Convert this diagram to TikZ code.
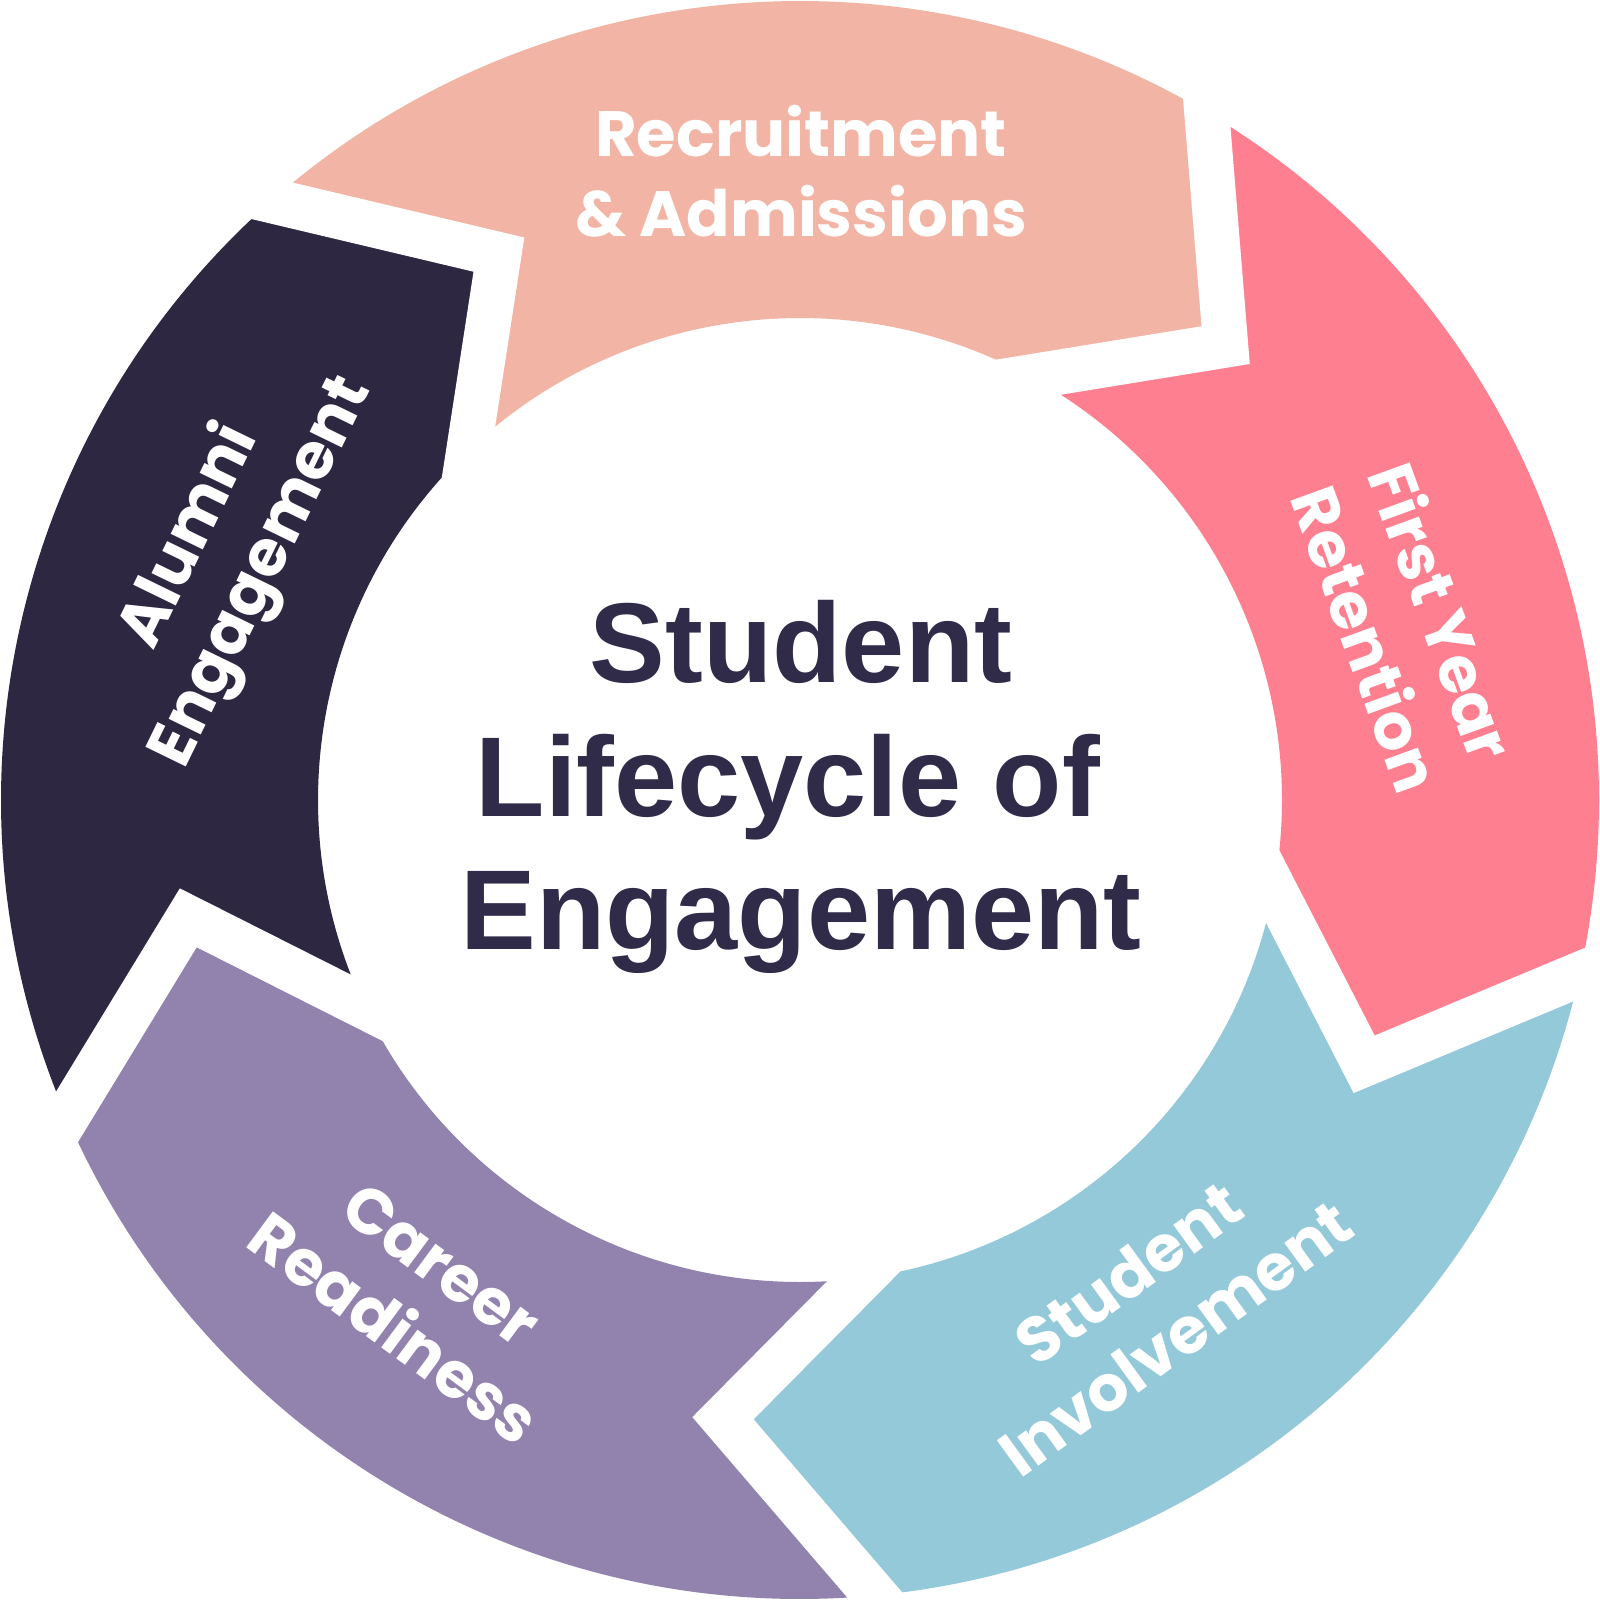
\documentclass[tikz,border=0pt]{standalone}
\usepackage{fontspec}
\setmainfont{Liberation Sans}
\newfontfamily\labelfont{Poppins}
\usetikzlibrary{calc}
\definecolor{recr}{HTML}{F2B4A5}
\definecolor{firsty}{HTML}{FE7F90}
\definecolor{involv}{HTML}{94C9D9}
\definecolor{career}{HTML}{9283AE}
\definecolor{alumni}{HTML}{2D2742}
\definecolor{titlecol}{HTML}{312B4A}
\begin{document}
\begin{tikzpicture}[x=1pt,y=1pt,
  gapline/.style={white, line width=45pt, line join=miter, miter limit=20},
  lbl/.style={text=white, font=\labelfont\bfseries\fontsize{64}{80}\selectfont, anchor=base, inner sep=0pt},
  ttl/.style={text=titlecol, font=\bfseries\fontsize{113.5}{134}\selectfont, anchor=base, inner sep=0pt}]
\path[use as bounding box, fill=white] (-800,-799) rectangle (800,800);
\def\Ro{799}\def\Rk{623}\def\Ri{482}\def\Tz{59.4}\def\Tk{-12.5}\def\Ti{2}
% segments
\foreach \k/\col in {0/firsty,1/involv,2/career,3/alumni,4/recr}{
  \pgfmathsetmacro\a{\Tz-72*\k}
  \pgfmathsetmacro\b{\a-72}
  \pgfmathsetmacro\bk{\b+\Tk}
  \pgfmathsetmacro\bi{\b+\Ti}
  \pgfmathsetmacro\ak{\a+\Tk}
  \pgfmathsetmacro\ai{\a+\Ti}
  \fill[\col] (\a:\Ro pt) arc[start angle=\a, end angle=\b, radius=\Ro pt]
    -- (\bk:\Rk pt) -- (\bi:\Ri pt)
    arc[start angle=\bi, end angle=\ai, radius=\Ri pt]
    -- (\ak:\Rk pt) -- cycle;
}
% gaps
\foreach \k in {0,...,4}{
  \pgfmathsetmacro\t{\Tz-72*\k}
  \pgfmathsetmacro\tk{\t+\Tk}
  \pgfmathsetmacro\ti{\t+\Ti}
  \coordinate (O\k) at (\t:\Ro pt);
  \coordinate (K\k) at (\tk:\Rk pt);
  \coordinate (I\k) at (\ti:\Ri pt);
  \draw[gapline] ($(K\k)!1.3!(O\k)$) -- (K\k) -- ($(K\k)!1.4!(I\k)$);
}
% labels
\begin{scope}[shift={(1,626)}]
  \node[lbl] (rec1) at (0,17) {Recruitment};
  \node[lbl] (rec2) at (0,-63) {\& Admissions};
\end{scope}
\begin{scope}[shift={(603,174)},rotate=-70]
  \node[lbl,rotate=-70] (fy1) at (0,17) {First Year};
  \node[lbl,rotate=-70] (fy2) at (0,-63) {Retention};
\end{scope}
\begin{scope}[shift={(352,-506)},rotate=36]
  \node[lbl,rotate=36] (si1) at (0,17) {Student};
  \node[lbl,rotate=36] (si2) at (0,-63) {Involvement};
\end{scope}
\begin{scope}[shift={(-382,-496)},rotate=-36.5]
  \node[lbl,rotate=-36.5] (cr1) at (0,17) {Career};
  \node[lbl,rotate=-36.5] (cr2) at (0,-63) {Readiness};
\end{scope}
\begin{scope}[shift={(-579,248)},rotate=64]
  \node[lbl,rotate=64] (al1) at (0,17) {Alumni};
  \node[lbl,rotate=64] (al2) at (0,-63) {Engagement};
\end{scope}
% title
\node[ttl] (t1) at (1,118) {Student};
\node[ttl] (t2) at (-12,-16) {Lifecycle of};
\node[ttl] (t3) at (1,-149) {Engagement};
\end{tikzpicture}
\end{document}
